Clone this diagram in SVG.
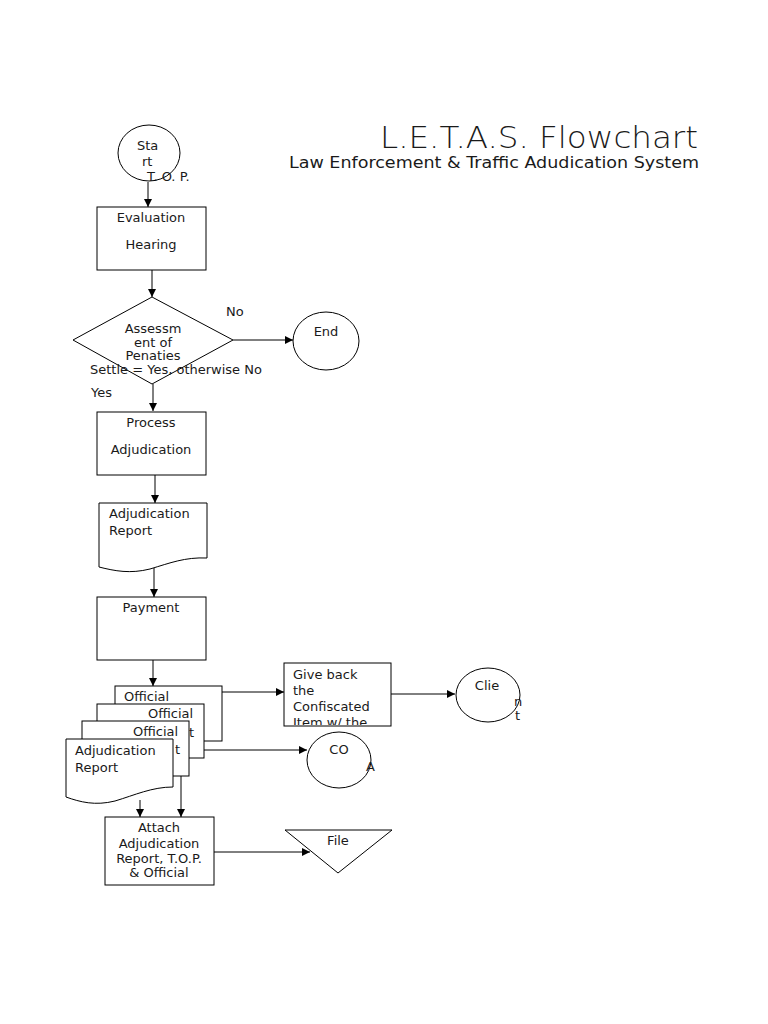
<svg xmlns="http://www.w3.org/2000/svg" width="768" height="1024" viewBox="0 0 768 1024">
<style>
text{font-family:"DejaVu Sans","Liberation Sans",sans-serif;font-size:13px;fill:#1a1a1a}
.s{fill:#fff;stroke:#000;stroke-width:1}
.c{fill:none;stroke:#000;stroke-width:1}
.m{text-anchor:middle}
</style>
<defs>
<marker id="a" viewBox="0 0 10 10" refX="10" refY="5" markerWidth="8" markerHeight="8" markerUnits="userSpaceOnUse" orient="auto"><path d="M0,0L10,5L0,10Z" fill="#000"/></marker>
<clipPath id="gb"><rect x="284" y="663" width="107" height="62"/></clipPath>
</defs>
<rect width="768" height="1024" fill="#fff"/>
<g id="title">
<text x="698" y="148" text-anchor="end" style="font-size:30px;font-weight:200" textLength="318" lengthAdjust="spacingAndGlyphs">L.E.T.A.S. Flowchart</text>
<text x="699" y="168" text-anchor="end" style="font-size:16px" textLength="410" lengthAdjust="spacingAndGlyphs">Law Enforcement &amp; Traffic Adudication System</text>
</g>
<g id="connectors">
<path class="c" d="M148,182V207" marker-end="url(#a)"/>
<path class="c" d="M152,270V297" marker-end="url(#a)"/>
<path class="c" d="M233,340H293" marker-end="url(#a)"/>
<path class="c" d="M153,384V411" marker-end="url(#a)"/>
<path class="c" d="M155,475V503" marker-end="url(#a)"/>
<path class="c" d="M154,568V597" marker-end="url(#a)"/>
<path class="c" d="M153,660V686" marker-end="url(#a)"/>
<path class="c" d="M222,692H284" marker-end="url(#a)"/>
<path class="c" d="M391,694H455" marker-end="url(#a)"/>
<path class="c" d="M189,750H307" marker-end="url(#a)"/>
<path class="c" d="M140,800V817" marker-end="url(#a)"/>
<path class="c" d="M181,776V817" marker-end="url(#a)"/>
<path class="c" d="M214,852H310" marker-end="url(#a)"/>
</g>
<g id="start">
<ellipse class="s" cx="149" cy="153" rx="31" ry="28"/>
<text x="137" y="150">Sta</text>
<text x="142" y="166">rt</text>
<text x="147" y="181">T. O. P.</text>
</g>
<g id="evaluation">
<rect class="s" x="97" y="207" width="109" height="63"/>
<text class="m" x="151" y="222">Evaluation</text>
<text class="m" x="151" y="249">Hearing</text>
</g>
<g id="assessment">
<path class="s" d="M152,297L233,340L152,384L73,340Z"/>
<text class="m" x="153" y="333">Assessm</text>
<text class="m" x="153" y="347">ent of</text>
<text class="m" x="153" y="360">Penaties</text>
<text x="226" y="316">No</text>
<text x="90" y="374">Settle  = Yes,  otherwise No</text>
<text x="91" y="397">Yes</text>
</g>
<g id="end">
<ellipse class="s" cx="326" cy="341" rx="33" ry="29"/>
<text class="m" x="326" y="336">End</text>
</g>
<g id="process">
<rect class="s" x="97" y="412" width="109" height="63"/>
<text class="m" x="151" y="427">Process</text>
<text class="m" x="151" y="454">Adjudication</text>
</g>
<g id="report">
<path class="s" d="M99,503H207V558C185,557 170,563 150,569C130,574 115,571 99,567Z"/>
<text x="109" y="518">Adjudication</text>
<text x="109" y="535">Report</text>
</g>
<g id="payment">
<rect class="s" x="97" y="597" width="109" height="63"/>
<text class="m" x="151" y="612">Payment</text>
</g>
<g id="stack">
<rect class="s" x="115" y="686" width="107" height="55"/>
<text x="124" y="701">Official</text>
<rect class="s" x="97" y="704" width="107" height="54"/>
<text x="148" y="718">Official</text>
<text x="189" y="737">t</text>
<rect class="s" x="82" y="721" width="107" height="55"/>
<text x="133" y="736">Official</text>
<text x="175" y="754">t</text>
<path class="s" d="M66,739H173V787C152,787 135,795 115,801C95,806 80,802 66,797Z"/>
<text x="75" y="755">Adjudication</text>
<text x="75" y="772">Report</text>
</g>
<g id="giveback">
<rect class="s" x="284" y="663" width="107" height="63"/>
<g clip-path="url(#gb)">
<text x="293" y="679">Give back</text>
<text x="293" y="695">the</text>
<text x="293" y="711">Confiscated</text>
<text x="293" y="727">Item w/ the</text>
</g>
</g>
<g id="client">
<ellipse class="s" cx="488" cy="695" rx="32" ry="27"/>
<text class="m" x="487" y="690">Clie</text>
<text x="514" y="706">n</text>
<text x="515" y="720">t</text>
</g>
<g id="coa">
<ellipse class="s" cx="339" cy="760" rx="32" ry="28"/>
<text class="m" x="339" y="754">CO</text>
<text x="366" y="771">A</text>
</g>
<g id="attach">
<rect class="s" x="105" y="817" width="109" height="68"/>
<text class="m" x="159" y="832">Attach</text>
<text class="m" x="159" y="848">Adjudication</text>
<text class="m" x="159" y="863">Report, T.O.P.</text>
<text class="m" x="159" y="877">&amp; Official</text>
</g>
<g id="file">
<path class="s" d="M285,830H392L338,873Z"/>
<text class="m" x="338" y="845">File</text>
</g>
</svg>
